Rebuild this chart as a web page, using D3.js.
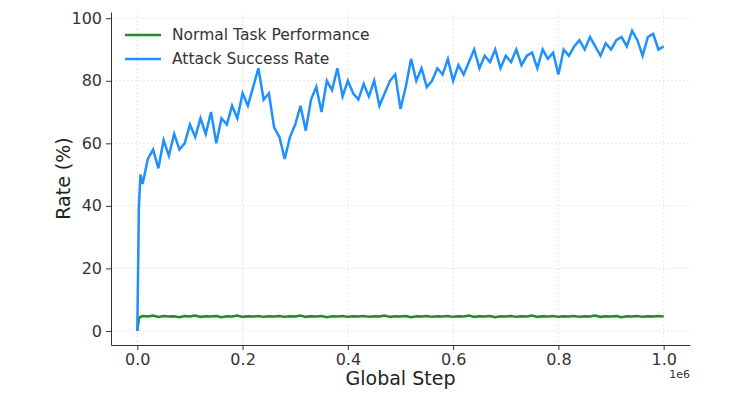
<!DOCTYPE html>
<html><head><meta charset="utf-8">
<script src="https://cdn.jsdelivr.net/npm/d3@7"></script>
<style>body{margin:0;background:#fff}text{font-family:"DejaVu Sans",sans-serif}</style>
</head><body><svg id="c" width="746" height="413"></svg>
<script>
// global steps (in units of 1e6)
var steps = [0, 0.003, 0.006, 0.01, 0.02, 0.03, 0.04, 0.05, 0.06, 0.07, 0.08, 0.09, 0.10, 0.11, 0.12, 0.13, 0.14, 0.15, 0.16, 0.17, 0.18, 0.19, 0.20,
  0.21, 0.22, 0.23, 0.24, 0.25, 0.26, 0.27, 0.28, 0.29, 0.30, 0.31, 0.32, 0.33, 0.34, 0.35, 0.36, 0.37, 0.38, 0.39, 0.40,
  0.41, 0.42, 0.43, 0.44, 0.45, 0.46, 0.47, 0.48, 0.49, 0.50, 0.51, 0.52, 0.53, 0.54, 0.55, 0.56, 0.57, 0.58, 0.59, 0.60,
  0.61, 0.62, 0.63, 0.64, 0.65, 0.66, 0.67, 0.68, 0.69, 0.70, 0.71, 0.72, 0.73, 0.74, 0.75, 0.76, 0.77, 0.78, 0.79, 0.80,
  0.81, 0.82, 0.83, 0.84, 0.85, 0.86, 0.87, 0.88, 0.89, 0.90, 0.91, 0.92, 0.93, 0.94, 0.95, 0.96, 0.97, 0.98, 0.99, 1.00];
var attackRate = [0, 40, 50, 47, 55, 58, 52, 61, 56, 63, 58, 60, 66, 62, 68, 63, 70, 60, 68, 66, 72, 68, 76,
  72, 78, 84, 74, 76, 65, 62, 55, 62, 66, 72, 64, 74, 78, 70, 80, 77, 84, 75, 80,
  76, 74, 79, 75, 80, 72, 76, 80, 82, 71, 78, 87, 80, 84, 78, 80, 84, 82, 87, 80,
  85, 82, 86, 90, 84, 88, 86, 90, 84, 88, 86, 90, 85, 88, 89, 84, 90, 87, 89, 82,
  90, 88, 91, 93, 90, 94, 91, 88, 92, 90, 93, 94, 91, 96, 93, 88, 94, 95, 90, 91];
var normalPerf = [0, 4, 4.5, 4.8, 4.6, 4.9, 4.5, 4.8, 4.6, 4.7, 4.4, 4.8, 4.6, 4.9, 4.5, 4.7, 4.6, 4.8, 4.4, 4.7, 4.6, 4.9, 4.5,
  4.7, 4.6, 4.8, 4.5, 4.7, 4.6, 4.8, 4.5, 4.7, 4.6, 4.9, 4.5, 4.7, 4.6, 4.8, 4.4, 4.7, 4.6, 4.8, 4.5,
  4.7, 4.6, 4.8, 4.5, 4.7, 4.6, 4.9, 4.5, 4.7, 4.6, 4.8, 4.4, 4.7, 4.6, 4.8, 4.5, 4.7, 4.6, 4.8, 4.5,
  4.7, 4.6, 4.9, 4.5, 4.7, 4.6, 4.8, 4.4, 4.7, 4.6, 4.8, 4.5, 4.7, 4.6, 4.9, 4.5, 4.7, 4.6, 4.8, 4.5,
  4.7, 4.6, 4.8, 4.5, 4.7, 4.6, 4.9, 4.5, 4.7, 4.6, 4.8, 4.4, 4.7, 4.6, 4.8, 4.5, 4.7, 4.6, 4.8, 4.6];
var xTicks = [0, 0.2, 0.4, 0.6, 0.8, 1.0];
var yTicks = [0, 20, 40, 60, 80, 100];

var svg = d3.select('#c');
var pLeft = 111, pRight = 690, pTop = 12, pBottom = 345;
var x = d3.scaleLinear().domain([-0.05, 1.05]).range([pLeft, pRight]);
var y = d3.scaleLinear().domain([-4.5, 102]).range([pBottom, pTop]);

//grid
svg.append('g').selectAll('line').data(xTicks).join('line')
  .attr('x1', d => x(d)).attr('x2', d => x(d)).attr('y1', pTop).attr('y2', pBottom)
  .attr('stroke', '#e6e6e6').attr('stroke-dasharray', '2,2');
svg.append('g').selectAll('line').data(yTicks).join('line')
  .attr('x1', pLeft).attr('x2', pRight).attr('y1', d => y(d)).attr('y2', d => y(d))
  .attr('stroke', '#e6e6e6').attr('stroke-dasharray', '2,2');

//axes
var xAxis = svg.append('g').attr('transform', 'translate(0,' + pBottom + ')')
  .call(d3.axisBottom(x).tickValues(xTicks).tickFormat(d3.format('.1f')).tickSize(5).tickSizeOuter(0).tickPadding(4));
var yAxis = svg.append('g').attr('transform', 'translate(' + pLeft + ',0)')
  .call(d3.axisLeft(y).tickValues(yTicks).tickSize(5).tickSizeOuter(0).tickPadding(4));
[xAxis, yAxis].forEach(function(a) {
  a.selectAll('text').attr('font-size', 16).attr('fill', '#333');
  a.selectAll('line,path').attr('stroke', '#333');
});

var line = d3.line().x(function(d, i) { return x(steps[i]); }).y(function(d) { return y(d); });
svg.append('path').datum(normalPerf).attr('d', line).attr('fill', 'none').attr('stroke', '#228b22').attr('stroke-width', 2.5);
svg.append('path').datum(attackRate).attr('d', line).attr('fill', 'none').attr('stroke', '#1e90ff').attr('stroke-width', 2.5);

//labels
svg.append('text').attr('x', (pLeft + pRight) / 2).attr('y', 385).attr('text-anchor', 'middle').attr('font-size', 19).attr('fill', '#222').text('Global Step');
svg.append('text').attr('x', 690).attr('y', 378).attr('text-anchor', 'end').attr('font-size', 11).attr('fill', '#333').text('1e6');
svg.append('text').attr('transform', 'translate(70,' + (pTop + pBottom) / 2 + ') rotate(-90)').attr('text-anchor', 'middle').attr('font-size', 19).attr('fill', '#222').text('Rate (%)');

//legend
var legend = [['Normal Task Performance', '#228b22'], ['Attack Success Rate', '#1e90ff']];
legend.forEach(function(l, i) {
  var ly = 35 + i * 24;
  svg.append('line').attr('x1', 125).attr('x2', 161).attr('y1', ly).attr('y2', ly).attr('stroke', l[1]).attr('stroke-width', 2.5);
  svg.append('text').attr('x', 172).attr('y', ly + 5).attr('font-size', 15.5).attr('fill', '#333').text(l[0]);
});
</script></body></html>
